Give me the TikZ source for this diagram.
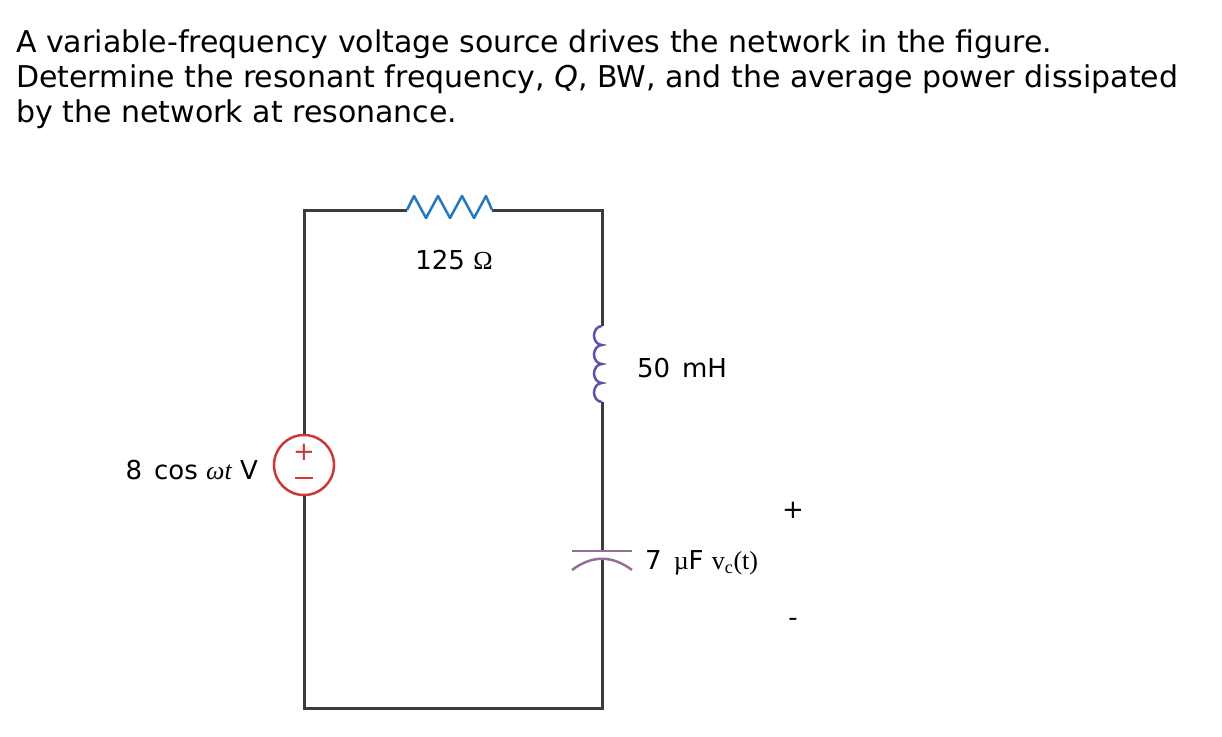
\documentclass[tikz,border=0pt]{standalone}
\usepackage{fontspec}
\setmainfont{DejaVu Sans}
\newfontfamily\serifnum{Liberation Serif}
\usetikzlibrary{positioning,calc}
\definecolor{wire}{RGB}{60,60,60}
\definecolor{resblue}{RGB}{40,120,190}
\definecolor{indviolet}{RGB}{100,80,170}
\definecolor{capmauve}{RGB}{150,110,150}
\definecolor{srcred}{RGB}{205,55,60}

\begin{document}
\begin{tikzpicture}[
    x=1pt, y=-1pt,
    wireline/.style={draw=wire, line width=3pt},
    label/.style={font=\fontsize{26}{30}\selectfont, inner sep=0pt},
    question/.style={font=\fontsize{30}{35}\selectfont, align=left, anchor=north west, inner sep=0pt}
]
\useasboundingbox (0,0) rectangle (1222,736);

% Problem text
\node[question] (task) at (16,30) {A variable-frequency voltage source drives the network in the figure.\\Determine the resonant frequency, \textit{Q}, BW, and the average power dissipated\\by the network at resonance.};

% Corners and terminals
\coordinate (tl) at (304,210);
\coordinate (tr) at (602,210);
\coordinate (bl) at (304,708);
\coordinate (br) at (602,708);
\coordinate (ra) at (407,210);
\coordinate (rb) at (492,210);
\coordinate (la) at (602,326);
\coordinate (lb) at (602,402);
\coordinate (ca) at (602,551);
\coordinate (cb) at (602,558);
\node[circle, draw=srcred, line width=2.5pt, minimum size=60pt, inner sep=0pt] (src) at (304,465) {};

% Wires
\draw[wireline] (src.north) -- (tl) -- (ra);
\draw[wireline] (rb) -- (tr) -- (la);
\draw[wireline] (lb) -- (ca);
\draw[wireline] (cb) -- (br) -- (bl) -- (src.south);

% Resistor
\draw[resblue, line width=2.5pt, line join=round] (ra) -- ++(7,-14) -- ++(12,22) -- ++(12,-22) -- ++(12,22) -- ++(12,-22) -- ++(12,22) -- ++(12,-22) -- (rb);

% Inductor
\draw[indviolet, line width=2.5pt] (la) \foreach \k in {0,...,3} {arc[start angle=270, end angle=90, x radius=8, y radius=9.5]};

% Capacitor
\draw[capmauve, line width=2.5pt] ($(ca)+(-30,0)$) -- ($(ca)+(30,0)$);
\draw[capmauve, line width=2.5pt] ($(cb)+(-30,12)$) .. controls ($(cb)+(-10,-3)$) and ($(cb)+(10,-3)$) .. ($(cb)+(30,12)$);

% Source signs
\node[srcred, font=\fontsize{26}{26}\selectfont, inner sep=0pt] (plus) at (304,452) {+};
\draw[srcred, line width=2pt] ($(src.center)+(-9,13)$) -- ($(src.center)+(9,13)$);

% Labels
\node[label] (rlab) at (454,260) {125 {\serifnum Ω}};
\node[label] (llab) at (682,368) {50\hspace{12pt}mH};
\node[label, anchor=east] (slab) at (258,470) {8\hspace{12pt}cos {\serifnum\itshape ω}{\serifnum\itshape t} V};
\node[label] (cplus) at (793,510) {+};
\node[label, anchor=west] (clab) at (645,563) {7\hspace{12pt}{\serifnum µ}F {\serifnum v\textsubscript{c}(t)}};
\node[label] (cminus) at (793,622) {-};

\end{tikzpicture}
\end{document}
